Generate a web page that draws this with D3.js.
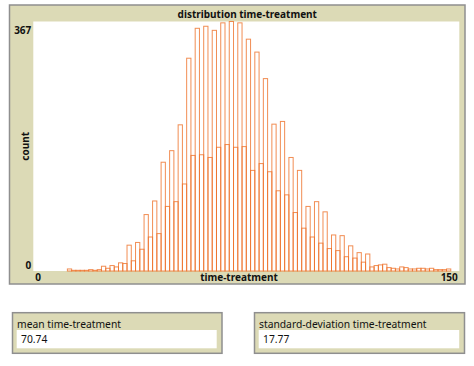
<!DOCTYPE html>
<html><head><meta charset="utf-8">
<script src="https://cdn.jsdelivr.net/npm/d3@7"></script>
<style>body{margin:0;background:#fff;}svg{display:block;}</style>
</head><body>
<svg id="chart" width="474" height="366"></svg>
<script>
// ---- data ----
const plotTitle = "distribution time-treatment";
const xLabel = "time-treatment";
const yLabel = "count";
const xDomain = [0, 150];
const yDomain = [0, 367];
const xTickValues = [0, 150];
const yTickValues = [0, 367];
const binWidth = 1.5;
// counts per bin, bin k covers [k*1.5, k*1.5+1.5)
const counts = [
  0,0,0,0,0,0,0,0,
  3,1,1,1,1,2,1,2,
  7,4,8,6,12,11,38,15,
  42,32,83,50,103,55,160,95,
  177,102,215,128,313,170,357,171,
  360,167,354,182,365,186,367,182,
  365,183,341,148,322,158,283,146,
  216,118,220,112,167,86,148,63,
  95,50,102,41,87,33,53,30,
  52,21,37,19,27,13,25,6,
  8,9,10,5,4,3,6,5,
  3,3,4,4,3,4,2,2,
  2,3,0,0
];
const monitorLabels = ["mean time-treatment", "standard-deviation time-treatment"];
const monitorValues = ["70.74", "17.77"];

// ---- styles ----
const BEIGE = "#dcdab6";
const BORDER = "#8f8f8f";
const BAR = "rgb(238,112,40)";
const FONT = "'Noto Sans', 'Lucida Grande', 'DejaVu Sans', sans-serif";

const svg = d3.select("#chart");

// plot widget frame
const frame = {x: 9.5, y: 5, w: 455.5, h: 279};
svg.append("rect").attr("x", frame.x).attr("y", frame.y).attr("width", frame.w).attr("height", frame.h)
  .attr("fill", BEIGE).attr("stroke", BORDER).attr("stroke-width", 1.5);

const plot = {left: 33.3, right: 459.3, top: 21.5, bottom: 271};
svg.append("rect").attr("x", plot.left).attr("y", plot.top)
  .attr("width", plot.right - plot.left).attr("height", plot.bottom - plot.top).attr("fill", "#fff");

const x = d3.scaleLinear().domain(xDomain).range([plot.left, plot.right]);
const y = d3.scaleLinear().domain(yDomain).range([plot.bottom, plot.top]);

// title
svg.append("text").attr("x", (plot.left + plot.right) / 2 + 1).attr("y", 17.5)
  .attr("text-anchor", "middle").attr("font-family", FONT).attr("font-weight", "bold")
  .attr("font-size", "10px").attr("fill", "#111").text(plotTitle);

// bars
const bins = counts.map((c, k) => ({x0: k * binWidth, x1: (k + 1) * binWidth, c}))
  .filter(d => d.c > 0);
svg.append("g").selectAll("rect").data(bins).join("rect")
  .attr("x", d => x(d.x0)).attr("width", d => x(d.x1) - x(d.x0))
  .attr("y", d => y(d.c)).attr("height", d => y(0) - y(d.c))
  .attr("fill", "none").attr("stroke", BAR).attr("stroke-width", 1).attr("stroke-opacity", 0.8);

// x axis
const gx = svg.append("g").attr("transform", `translate(0,${plot.bottom})`)
  .call(d3.axisBottom(x).tickValues(xTickValues).tickSize(0).tickPadding(3).tickFormat(d3.format("d")));
gx.select(".domain").remove();
gx.selectAll("text").attr("font-family", FONT).attr("font-weight", "bold").attr("font-size", "10px")
  .attr("fill", "#111")
  .attr("text-anchor", d => d === xDomain[0] ? "start" : "end")
  .attr("dx", d => d === xDomain[0] ? 1.5 : -2);

// y axis
const gy = svg.append("g").attr("transform", `translate(${plot.left - 1},0)`)
  .call(d3.axisLeft(y).tickValues(yTickValues).tickSize(0).tickPadding(1).tickFormat(d3.format("d")));
gy.select(".domain").remove();
gy.selectAll("text").attr("font-family", FONT).attr("font-weight", "bold").attr("font-size", "10px")
  .attr("fill", "#111")
  .attr("dy", d => d === yDomain[1] ? "1.2em" : "-0.25em");

// axis labels
svg.append("text").attr("x", 239).attr("y", 281)
  .attr("text-anchor", "middle").attr("font-family", FONT).attr("font-weight", "bold")
  .attr("font-size", "10px").attr("fill", "#111").text(xLabel);
svg.append("text").attr("transform", `translate(29,${(plot.top + plot.bottom) / 2}) rotate(-90)`)
  .attr("text-anchor", "middle").attr("font-family", FONT).attr("font-weight", "bold")
  .attr("font-size", "10px").attr("fill", "#111").text(yLabel);

// monitors
const monitors = [{x: 12.5, w: 209.5}, {x: 254.5, w: 210}];
monitors.forEach((m, i) => {
  const g = svg.append("g");
  g.append("rect").attr("x", m.x).attr("y", 312.7).attr("width", m.w).attr("height", 40.6)
    .attr("fill", BEIGE).attr("stroke", BORDER).attr("stroke-width", 1.5);
  g.append("rect").attr("x", m.x + 4.2).attr("y", 330).attr("width", m.w - 9.5).attr("height", 18.3)
    .attr("fill", "#fff");
  g.append("text").attr("x", m.x + 4.5).attr("y", 327.5).attr("font-family", FONT)
    .attr("font-size", "10.3px").attr("fill", "#111").text(monitorLabels[i]);
  g.append("text").attr("x", m.x + 8.5).attr("y", 343.3).attr("font-family", FONT)
    .attr("font-size", "10.3px").attr("fill", "#111").text(monitorValues[i]);
});
</script>
</body></html>
